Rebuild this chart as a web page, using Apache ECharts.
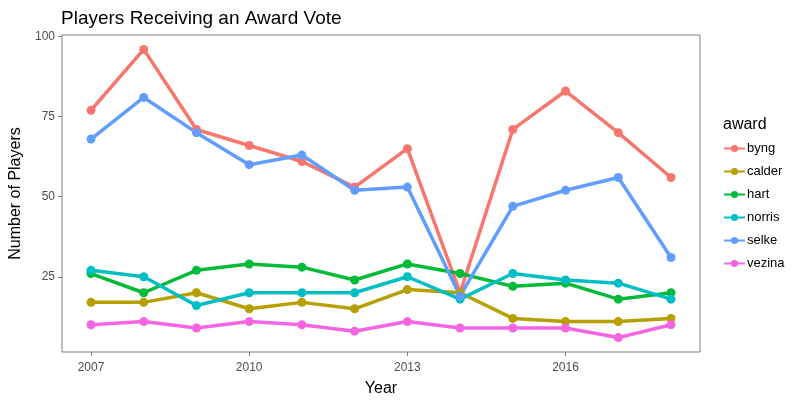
<!DOCTYPE html>
<html>
<head>
<meta charset="utf-8">
<script src="https://cdn.jsdelivr.net/npm/echarts@6/dist/echarts.min.js"></script>
<style>
  html, body { margin: 0; padding: 0; background: #fff; }
  #chart { width: 800px; height: 400px; }
</style>
</head>
<body>
<div id="chart"></div>
<script>
(function() {
  var years = [2007, 2008, 2009, 2010, 2011, 2012, 2013, 2014, 2015, 2016, 2017, 2018];
  var awards = ['byng', 'calder', 'hart', 'norris', 'selke', 'vezina'];
  var colors = ['#F8766D', '#B79F00', '#00BA38', '#00BFC4', '#619CFF', '#F564E3'];

  var byng   = [77, 96, 71, 66, 61, 53, 65, 20, 71, 83, 70, 56];
  var calder = [17, 17, 20, 15, 17, 15, 21, 20, 12, 11, 11, 12];
  var hart   = [26, 20, 27, 29, 28, 24, 29, 26, 22, 23, 18, 20];
  var norris = [27, 25, 16, 20, 20, 20, 25, 18, 26, 24, 23, 18];
  var selke  = [68, 81, 70, 60, 63, 52, 53, 19, 47, 52, 56, 31];
  var vezina = [10, 11, 9, 11, 10, 8, 11, 9, 9, 9, 6, 10];

  var xTicks = [2007, 2010, 2013, 2016];
  var yTicks = [25, 50, 75, 100];

  var values = [byng, calder, hart, norris, selke, vezina];
  var axisGray = '#7f7f7f';
  var labelGray = '#4d4d4d';

  var series = awards.map(function(name, i) {
    return {
      name: name,
      type: 'line',
      data: years.map(function(y, j) { return [y, values[i][j]]; }),
      symbol: 'circle',
      symbolSize: 9,
      lineStyle: { width: 3.5, color: colors[i] },
      itemStyle: { color: colors[i] },
      emphasis: { disabled: true }
    };
  });

  var chart = echarts.init(document.getElementById('chart'), null, { renderer: 'canvas' });
  chart.setOption({
    animation: false,
    color: colors,
    title: [
      {
        text: 'Players Receiving an Award Vote',
        left: 56, top: 4,
        textStyle: { fontFamily: 'Liberation Sans', fontSize: 19, fontWeight: 'normal', color: '#000' }
      },
      {
        text: 'award',
        left: 718, top: 112,
        textStyle: { fontFamily: 'Liberation Sans', fontSize: 16, fontWeight: 'normal', color: '#000' }
      }
    ],
    legend: {
      orient: 'vertical',
      left: 718, top: 137,
      itemWidth: 21, itemHeight: 9,
      itemGap: 10,
      data: awards,
      textStyle: { fontFamily: 'Liberation Sans', fontSize: 13, color: '#000', padding: [0, 0, 0, -3] }
    },
    grid: {
      left: 62, right: 100, top: 35, bottom: 48,
      outerBoundsMode: 'none',
      show: true, borderColor: axisGray, borderWidth: 1
    },
    xAxis: {
      type: 'value',
      min: 2006.45, max: 2018.55,
      name: 'Year',
      nameLocation: 'middle',
      nameGap: 29,
      nameTextStyle: { fontFamily: 'Liberation Sans', fontSize: 16, color: '#000' },
      axisLine: { show: false },
      axisTick: { show: true, customValues: xTicks, length: 4, lineStyle: { color: axisGray } },
      axisLabel: {
        customValues: xTicks, fontFamily: 'Liberation Sans', fontSize: 12, color: labelGray, margin: 10,
        formatter: function(v) { return String(v); }
      },
      splitLine: { show: false }
    },
    yAxis: {
      type: 'value',
      min: 1.5, max: 100.5,
      name: 'Number of Players',
      nameLocation: 'middle',
      nameGap: 36,
      nameTextStyle: { fontFamily: 'Liberation Sans', fontSize: 16, color: '#000' },
      axisLine: { show: false },
      axisTick: { show: true, customValues: yTicks, length: 4, lineStyle: { color: axisGray } },
      axisLabel: { customValues: yTicks, fontFamily: 'Liberation Sans', fontSize: 12, color: labelGray, margin: 7 },
      splitLine: { show: false }
    },
    series: series
  });
})();
</script>
</body>
</html>
